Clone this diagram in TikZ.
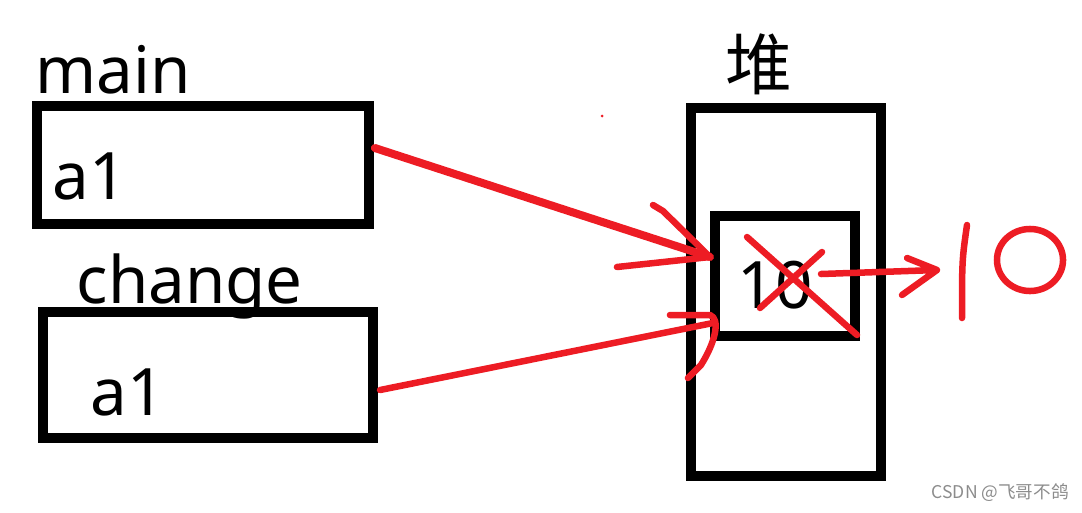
\documentclass[tikz,border=0pt]{standalone}
\usepackage{fontspec}
\setmainfont{Noto Sans}
\newfontfamily\cjkfont{Noto Sans CJK SC}
\usetikzlibrary{calc}
\definecolor{paintred}{HTML}{ED1C24}

\begin{document}
\begin{tikzpicture}[x=0.01cm, y=-0.01cm, font=\fontsize{18.6}{22}\selectfont,
    frame/.style={draw, line width=0.1cm, inner sep=0pt},
    word/.style={anchor=base west, inner sep=0pt},
    pen/.style={draw=paintred, line width=0.065cm, line cap=round, line join=round}]
  \useasboundingbox (0,0) rectangle (1082,512);
  % stack frames
  \node[frame, minimum width=3.315cm, minimum height=1.18cm] (mainbox) at (203,165) {};
  \node[word] (mainlbl) at (35,93) {main};
  \node[word] (mainvar) at (52,199) {a1};
  \node[frame, minimum width=3.3cm, minimum height=1.257cm] (changebox) at (208,375) {};
  \node[word] (changelbl) at (76,303) {change};
  \node[word] (changevar) at (90,415) {a1};
  % heap
  \node[frame, minimum width=1.9cm, minimum height=3.68cm] (heapbox) at (786,292) {};
  \node[font=\cjkfont\fontsize{19}{22}\selectfont] (heaplbl) at (759,64) {堆};
  \node[frame, minimum width=1.4cm, minimum height=1.2cm] (valbox) at (785,276) {};
  \node[word] (valnum) at (737,308) {10};
  % references (hand drawn)
  \draw[pen, line width=0.08cm] ($(mainbox.east)+(1,-17)$) -- ($(valbox.west)+(0,-19)$) coordinate (headA);
  \draw[pen] (headA) -- ++(-47,-46) -- ++(-10,-6) (headA) -- ++(-93,10);
  \draw[pen] ($(changebox.east)+(2,15)$) -- ($(valbox.west)+(3,47)$) coordinate (headB);
  \draw[pen] ($(headB)+(-43,-8)$) -- ($(headB)+(-3,-8)$)
    .. controls ($(headB)+(8,-4)$) and ($(headB)+(2,20)$) .. ($(headB)+(-12,42)$) -- ($(headB)+(-25,55)$);
  % old value crossed out, new value
  \draw[pen] ($(valbox.center)+(-38,-39)$) -- ($(valbox.center)+(72,59)$)
    ($(valbox.center)+(-25,32)$) -- ($(valbox.center)+(37,-24)$);
  \coordinate (newtip) at (937,270);
  \draw[pen] ($(valbox.center)+(36,-2)$) -- (newtip) ++(-30,-12) -- (newtip) -- ++(-35,25);
  \draw[pen] (967,225) .. controls (962,260) .. (962,318);
  \draw[pen] (1030,260) ellipse [x radius=0.33cm, y radius=0.31cm];
  \fill[paintred] (602,116) circle [radius=0.015cm];
  \node[word, font=\cjkfont\fontsize{5}{6}\selectfont, text=black!45] (mark) at (931,498) {CSDN @飞哥不鸽};
\end{tikzpicture}
\end{document}
